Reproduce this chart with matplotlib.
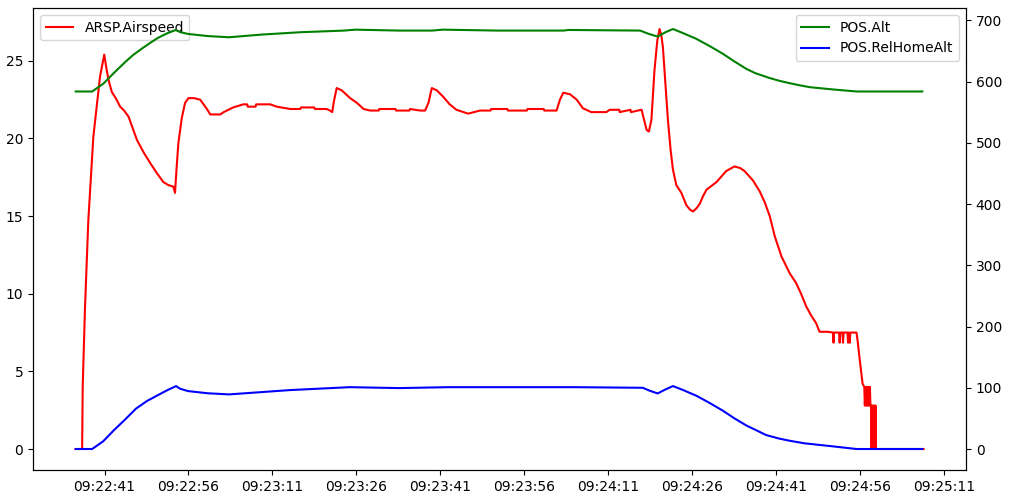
import numpy as np
import matplotlib
matplotlib.use("Agg")
import matplotlib.pyplot as plt
import matplotlib.dates as mdates

# seconds after 09:22:00
arsp_t = [35.8, 37.0, 37.1, 37.5, 38.1, 39.0, 40.2, 40.95, 41.3, 41.7, 42.3, 43.0, 43.8, 44.5,
          45.3, 46.0, 46.8, 48.0, 49.2, 50.3, 51.5, 52.4, 53.3, 53.6, 53.9, 54.2, 54.8, 55.4,
          56.0, 57.0, 58.1, 58.7, 59.3, 59.9, 61.7, 62.3, 64.0, 65.8, 66.5,
          66.6, 68.0, 68.1, 70.6, 71.8, 74.2, 76.0, 76.1, 78.5, 78.6, 80.7, 81.3, 81.7, 82.0,
          82.5, 83.4, 84.9, 86.1, 87.3, 88.5, 90.0, 90.1, 93.0, 93.1, 95.5, 95.6, 97.4, 98.3,
          98.9, 99.5, 100.4, 101.5, 102.7, 103.9, 106.0, 108.1, 110.0, 110.1, 113.0, 113.1,
          116.5, 116.6, 119.5, 119.6, 121.8, 122.4, 123.0, 124.2, 125.4, 126.5, 128.0, 130.7,
          131.3, 133.0, 133.1, 135.0, 135.1, 137.0, 137.3, 137.9, 138.3, 138.75, 139.3, 139.8,
          140.2, 140.5, 140.8, 141.2, 141.7, 142.2, 142.6, 143.2, 144.1, 145.0, 145.7, 146.2,
          146.8, 147.4, 148.0, 148.6, 150.4, 152.1, 153.6, 154.6, 155.4, 156.9, 158.1, 159.0,
          159.9, 160.8, 162.0, 163.5, 164.6, 165.5, 166.4, 167.3, 168.2, 168.8,
          170.3, 171.2, 171.3, 171.4, 172.3, 172.4, 172.5, 172.9, 173.0, 173.1, 173.8, 173.9,
          174.0, 174.2, 174.3, 175.4, 175.6, 176.0, 176.5, 176.8, 176.9, 177.0, 177.1, 177.2,
          177.3, 177.4, 177.5, 177.6, 177.7, 177.8, 177.9, 178.0, 178.1, 178.2, 178.3, 178.4,
          178.5, 178.6, 178.7, 178.8, 178.9, 179.0, 187.4]
arsp_v = [0.0, 0.0, 4.0, 9.0, 14.7, 20.1, 24.0, 25.4, 24.6, 23.8, 23.0, 22.6, 22.05, 21.8,
          21.4, 20.7, 19.9, 19.1, 18.4, 17.8, 17.2, 17.0, 16.9, 16.5, 18.2, 19.7, 21.3, 22.3,
          22.6, 22.6, 22.5, 22.2, 21.9, 21.55, 21.55, 21.7, 22.0, 22.2, 22.2,
          22.05, 22.05, 22.2, 22.2, 22.05, 21.9, 21.9, 22.0, 22.0, 21.9, 21.9, 21.8, 21.7, 22.4,
          23.25, 23.1, 22.6, 22.3, 21.9, 21.8, 21.8, 21.9, 21.9, 21.8, 21.8, 21.9, 21.8, 21.8,
          22.3, 23.25, 23.1, 22.7, 22.2, 21.85, 21.6, 21.8, 21.8, 21.9, 21.9, 21.8,
          21.8, 21.9, 21.9, 21.8, 21.8, 22.5, 22.95, 22.85, 22.5, 21.95, 21.7, 21.7,
          21.85, 21.85, 21.7, 21.85, 21.7, 21.85, 21.4, 20.55, 20.45, 21.2, 24.4, 26.3,
          27.05, 26.7, 25.9, 23.8, 21.2, 19.2, 18.0, 17.0, 16.5, 15.7, 15.4, 15.3,
          15.5, 15.8, 16.3, 16.7, 17.2, 17.9, 18.2, 18.1, 17.9, 17.3, 16.6, 15.9,
          15.0, 13.7, 12.4, 11.3, 10.7, 10.0, 9.2, 8.6, 8.1, 7.55,
          7.55, 7.5, 6.85, 7.5, 7.5, 6.85, 7.5, 7.5, 6.85, 7.5, 7.5, 6.85,
          7.5, 6.85, 7.5, 7.5, 7.0, 5.7, 4.2, 4.0, 2.8, 4.0, 2.8, 4.0,
          2.8, 4.0, 2.8, 4.0, 2.8, 4.0, 2.8, 2.8, 0.0, 2.8, 0.0, 2.8,
          0.0, 2.8, 0.0, 2.8, 0.0, 0.0, 0.0]

alt_t = [35.86, 38.79, 40.75, 42.7, 44.66, 46.1, 47.61, 49.1, 50.55, 52.2, 53.79, 54.5, 55.93,
         59.5, 63.27, 69.16, 76.0, 83.84, 85.80, 93.63, 99.52, 101.48, 111.27, 123.02, 123.98,
         136.73, 138.3, 139.88, 141.3, 142.61, 144.5, 146.78, 149.2, 151.54, 153.6, 155.71,
         157.3, 159.88, 161.6, 163.45, 165.3, 167.09, 171.0, 175.41, 187.16]
alt_v = [584, 584, 596.5, 614.5, 631.8, 643.5, 653.6, 663, 671.6, 679, 684.6, 681, 678,
         674.5, 672.6, 677, 680.8, 683.5, 685, 683.5, 683.5, 685, 683.5, 683.5, 684.5,
         683.5, 678, 673.7, 681, 686, 679, 670, 658, 645.5, 633, 621,
         614, 606, 601.5, 597.6, 594, 591, 587.5, 584, 584]

rel_t = [35.86, 38.79, 40.75, 42.71, 44.66, 46.63, 48.6, 50.55, 52.2, 53.79, 54.5, 55.93,
         59.5, 63.27, 74.05, 84.82, 93.63, 102.45, 124.98, 137.21, 138.5, 139.88, 141.3,
         142.61, 144.5, 146.78, 149.2, 151.54, 153.6, 155.71, 157.3, 159.25, 161.6, 163.45,
         166.11, 171.0, 175.41, 187.16]
rel_v = [0, 0, 12.5, 31, 48, 66, 78.5, 88, 96, 102.8, 98.5, 94.6,
         91, 89.2, 96.2, 101, 99.5, 101, 101, 100, 95, 90.8, 97.5,
         102.8, 96, 87, 75, 62.5, 50, 38.5, 31.5, 22.8, 17, 13.5,
         9.3, 4.5, 0, 0]

tick_secs = [41, 56, 71, 86, 101, 116, 131, 146, 161, 176, 191]

base = np.datetime64('2020-01-01T09:22:00')
def to_dt(secs):
    return base + (np.array(secs) * 1000).astype('timedelta64[ms]')

fig = plt.figure(figsize=(10.13, 5.03), dpi=100)
ax = fig.add_subplot(111)
fig.subplots_adjust(left=0.0326, right=0.9536, top=0.984, bottom=0.0656)
ax2 = ax.twinx()

ax.plot(to_dt(arsp_t), arsp_v, color='red', lw=1.5, label='ARSP.Airspeed')
ax2.plot(to_dt(alt_t), alt_v, color='green', lw=1.5, label='POS.Alt')
ax2.plot(to_dt(rel_t), rel_v, color='blue', lw=1.5, label='POS.RelHomeAlt')

ax.set_xticks(to_dt(tick_secs))
ax.xaxis.set_major_formatter(mdates.DateFormatter('%H:%M:%S'))
ax.set_yticks([0, 5, 10, 15, 20, 25])
ax2.set_yticks([0, 100, 200, 300, 400, 500, 600, 700])

ax.legend(loc='upper left')
ax2.legend(loc='upper right')

fig.savefig('out.png', dpi=100)
